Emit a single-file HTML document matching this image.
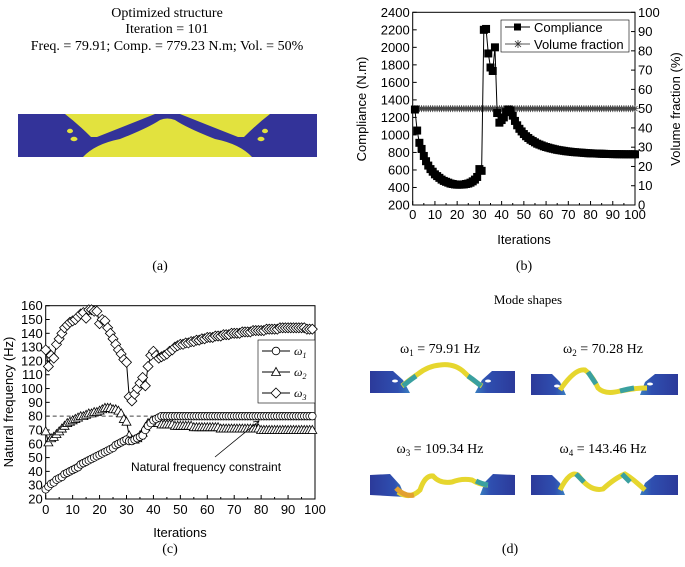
<!DOCTYPE html>
<html><head><meta charset="utf-8"><style>
html,body{margin:0;padding:0;background:#fff;}
svg{display:block;font-family:"Liberation Sans",sans-serif;}
.serif{font-family:"Liberation Serif",serif;}
</style></head><body>
<svg id="fig" width="685" height="567" viewBox="0 0 685 567">
<defs>
<linearGradient id="bl" x1="0" x2="1"><stop offset="0" stop-color="#2c3a9a"/><stop offset="0.7" stop-color="#2f4fb0"/><stop offset="1" stop-color="#3a7fc0"/></linearGradient>
<linearGradient id="br" x1="1" x2="0"><stop offset="0" stop-color="#2c3a9a"/><stop offset="0.7" stop-color="#2f4fb0"/><stop offset="1" stop-color="#3a7fc0"/></linearGradient>
</defs>
<!-- Panel A -->
<g class="serif">
<text x="167" y="17" text-anchor="middle" font-size="14" class="serif">Optimized structure</text>
<text x="167" y="33" text-anchor="middle" font-size="14" class="serif">Iteration = 101</text>
<text x="167" y="50" text-anchor="middle" font-size="14" class="serif">Freq. = 79.91; Comp. = 779.23 N.m; Vol. = 50%</text>
<g>
<rect x="18" y="114" width="299" height="43" fill="#333399"/>
<path d="M65,114 L155,114 Q130,124 97,137 L91,137 Q78,124 65,114 Z" fill="#e2e23e"/>
<path d="M270,114 L180,114 Q205,124 238,137 L244,137 Q257,124 270,114 Z" fill="#e2e23e"/>
<path d="M83,157 Q95,144 120,139 Q148,128 160,120 Q167,117 175,120 Q187,128 215,139 Q240,144 252,157 Z" fill="#e2e23e"/>
<ellipse cx="70" cy="131" rx="3" ry="2.2" fill="#e2e23e"/><ellipse cx="74" cy="139" rx="3.5" ry="2.2" fill="#e2e23e"/>
<ellipse cx="265" cy="131" rx="3" ry="2.2" fill="#e2e23e"/><ellipse cx="261" cy="139" rx="3.5" ry="2.2" fill="#e2e23e"/>
</g>
<text x="160" y="270" text-anchor="middle" font-size="14" class="serif">(a)</text>
</g>
<g id="pb"></g>
<g id="pc"></g>
<!-- Panel D -->
<g class="serif">
<text x="528" y="304" text-anchor="middle" font-size="13" class="serif">Mode shapes</text>
<text x="440" y="353" text-anchor="middle" font-size="14" class="serif">ω<tspan font-size="9" dy="3">1</tspan><tspan dy="-3"> = 79.91 Hz</tspan></text>
<text x="603" y="353" text-anchor="middle" font-size="14" class="serif">ω<tspan font-size="9" dy="3">2</tspan><tspan dy="-3"> = 70.28 Hz</tspan></text>
<text x="440" y="453" text-anchor="middle" font-size="14" class="serif">ω<tspan font-size="9" dy="3">3</tspan><tspan dy="-3"> = 109.34 Hz</tspan></text>
<text x="603" y="453" text-anchor="middle" font-size="14" class="serif">ω<tspan font-size="9" dy="3">4</tspan><tspan dy="-3"> = 143.46 Hz</tspan></text>
<g>
<path d="M370,371 L393,371 L403,380 L410,393 L370,393 Z" fill="url(#bl)"/><path d="M515,371 L492,371 L482,380 L475,393 L515,393 Z" fill="url(#br)"/>
<path d="M402,386 Q412,378 418,374 Q428,366 440,365 Q455,363 465,373 Q472,380 482,386" fill="none" stroke="#e6d62e" stroke-width="5"/>
<path d="M403,386 Q410,380 416,376" stroke="#3aa0a0" stroke-width="5" fill="none"/><path d="M468,376 Q474,380 481,386" stroke="#3aa0a0" stroke-width="5" fill="none"/>
<ellipse cx="395" cy="381" rx="3" ry="1.5" fill="#fff"/><ellipse cx="488" cy="381" rx="3" ry="1.5" fill="#fff"/>
</g>
<g>
<path d="M531,374 L552,374 L560,382 L566,395 L531,395 Z" fill="url(#bl)"/><path d="M678,374 L655,374 L645,382 L640,395 L678,395 Z" fill="url(#br)"/>
<path d="M560,390 Q575,368 585,370 Q592,375 598,388 Q605,395 620,391 Q635,388 647,388" fill="none" stroke="#e6d62e" stroke-width="5"/>
<path d="M588,372 Q592,378 596,384" stroke="#3aa0a0" stroke-width="5" fill="none"/><path d="M620,391 Q628,389 634,388" stroke="#3aa0a0" stroke-width="5" fill="none"/>
<ellipse cx="557" cy="386" rx="3" ry="1.5" fill="#fff"/><ellipse cx="650" cy="384" rx="3" ry="1.5" fill="#fff"/>
</g>
<g>
<path d="M370,475 L390,474 L400,485 L405,497 L370,495 Z" fill="url(#bl)"/><path d="M515,475 L493,474 L485,482 L480,495 L515,495 Z" fill="url(#br)"/>
<path d="M398,492 Q410,500 420,490 Q425,475 433,476 Q440,484 452,482 Q462,478 472,480 Q480,485 488,485" fill="none" stroke="#e6d62e" stroke-width="5"/>
<path d="M396,488 Q405,497 414,495" stroke="#e2a030" stroke-width="5" fill="none"/><path d="M476,481 Q482,484 488,485" stroke="#3aa0a0" stroke-width="5" fill="none"/>
</g>
<g>
<path d="M531,475 L552,475 L560,483 L565,495 L531,495 Z" fill="url(#bl)"/><path d="M678,475 L655,475 L645,483 L640,495 L678,495 Z" fill="url(#br)"/>
<path d="M560,490 Q570,470 578,475 Q590,492 603,489 Q615,478 625,474 Q632,478 645,490" fill="none" stroke="#e6d62e" stroke-width="5"/>
<path d="M576,474 Q580,478 584,482" stroke="#3aa0a0" stroke-width="5" fill="none"/><path d="M622,474 Q626,478 630,482" stroke="#3aa0a0" stroke-width="5" fill="none"/>
</g>
<text x="510" y="553" text-anchor="middle" font-size="14" class="serif">(d)</text>
</g>
</svg>
<script>
const iterations = [];
for (let i = 1; i <= 100; i++) iterations.push(i);
const complianceValues = [1290,1050,910,840,760,700,650,610,580,550,530,510,490,475,465,455,445,440,435,432,432,433,435,440,445,455,470,490,520,610,590,2200,2210,1930,1770,1730,2000,1250,1140,1170,1200,1260,1290,1280,1220,1160,1110,1070,1040,1010,985,965,945,930,915,900,890,880,870,862,855,848,842,836,830,826,822,818,814,811,808,805,803,801,799,797,795,793,791,790,789,788,787,786,785,784,783,782,782,781,781,780,780,780,779,779,779,779,779,779];
const volumeValues = [50,50,50,50,50,50,50,50,50,50,50,50,50,50,50,50,50,50,50,50,50,50,50,50,50,50,50,50,50,50,50,50,50,50,50,50,50,50,50,50,50,50,50,50,50,50,50,50,50,50,50,50,50,50,50,50,50,50,50,50,50,50,50,50,50,50,50,50,50,50,50,50,50,50,50,50,50,50,50,50,50,50,50,50,50,50,50,50,50,50,50,50,50,50,50,50,50,50,50,50];
const bXTicks = [0,10,20,30,40,50,60,70,80,90,100];
const bYTicks = [200,400,600,800,1000,1200,1400,1600,1800,2000,2200,2400];
const bY2Ticks = [0,10,20,30,40,50,60,70,80,90,100];
const omega1 = [27,29,31,32,34,35,36,38,39,40,41,42,43,45,46,47,48,49,50,51,52,53,54,55,56,57,59,60,61,62,63,62,62,63,64,65,66,70,73,75,77,78,79,80,80,80,80,80,80,80,80,80,80,80,80,80,80,80,80,80,80,80,80,80,80,80,80,80,80,80,80,80,80,80,80,80,80,80,80,80,80,80,80,80,80,80,80,80,80,80,80,80,80,80,80,80,80,80,80,80];
const omega2 = [69,61,64,65,67,69,71,73,75,76,77,78,79,80,80,81,82,82,83,83,84,85,86,86,86,85,85,84,82,78,76,66,63,63,64,66,68,72,75,76,76,75,75,74,74,74,74,74,73,73,73,73,73,73,73,72,72,72,72,72,72,72,72,72,72,71,71,71,71,71,71,71,71,71,71,71,71,71,71,71,70,70,70,70,70,70,70,70,70,70,70,70,70,70,70,70,70,70,70,70];
const omega3 = [128,116,124,122,132,136,140,144,146,148,149,150,152,154,155,151,157,157,156,156,147,150,149,144,140,136,132,128,125,121,119,94,91,96,100,104,108,102,116,124,127,124,122,123,124,125,127,128,130,131,132,132,133,133,134,134,135,135,136,136,137,137,137,138,138,138,139,139,139,140,140,140,140,141,141,141,141,142,142,142,142,142,143,143,143,143,143,144,144,144,144,144,144,144,144,144,144,143,143,143];
const cXTicks = [0,10,20,30,40,50,60,70,80,90,100];
const cYTicks = [20,30,40,50,60,70,80,90,100,110,120,130,140,150,160];
const constraintValue = 80;

const NS = "http://www.w3.org/2000/svg";
function mk(parent, tag, attrs, text) {
  const e = document.createElementNS(NS, tag);
  for (const k in attrs) e.setAttribute(k, attrs[k]);
  if (text !== undefined) e.textContent = text;
  parent.appendChild(e);
  return e;
}

/* Panel B */
const pb = document.getElementById('pb');
const bx0 = 412.7, bx1 = 635, by0 = 205, by1 = 12.3;
const bX = i => bx0 + (i / 100) * (bx1 - bx0);
const bY = c => by0 - (c - 200) / 2200 * (by0 - by1);
const bY2 = v => by0 - v / 100 * (by0 - by1);
let el;
el = mk(pb, 'rect', {x: bx0, y: by1, width: bx1 - bx0, height: by0 - by1, fill: 'none', stroke: '#000', 'stroke-width': 1});


bXTicks.forEach(t => {
  mk(pb, 'line', {x1: bX(t), x2: bX(t), y1: by0, y2: by0 - 4, stroke: '#000'});
  if (t < 100) mk(pb, 'line', {x1: bX(t + 5), x2: bX(t + 5), y1: by0, y2: by0 - 2, stroke: '#000'});
  el = mk(pb, 'text', {x: bX(t), y: by0 + 14, 'text-anchor': 'middle', 'font-size': 13}, t);
  
  
});
bYTicks.forEach(t => {
  mk(pb, 'line', {x1: bx0, x2: bx0 + 4, y1: bY(t), y2: bY(t), stroke: '#000'});
  el = mk(pb, 'text', {x: bx0 - 3, y: bY(t) + 4.5, 'text-anchor': 'end', 'font-size': 13}, t);
  
  
});
bY2Ticks.forEach(t => {
  mk(pb, 'line', {x1: bx1, x2: bx1 - 4, y1: bY2(t), y2: bY2(t), stroke: '#000'});
  el = mk(pb, 'text', {x: bx1 + 3, y: bY2(t) + 4.5, 'font-size': 13}, t);
  
  
});
el = mk(pb, 'text', {x: 524, y: 244, 'text-anchor': 'middle', 'font-size': 13}, 'Iterations');


el = mk(pb, 'text', {transform: 'translate(366,109) rotate(-90)', 'text-anchor': 'middle', 'font-size': 13}, 'Compliance (N.m)');


el = mk(pb, 'text', {transform: 'translate(680,109) rotate(-90)', 'text-anchor': 'middle', 'font-size': 13}, 'Volume fraction (%)');


el = mk(pb, 'polyline', {points: iterations.map((it, k) => bX(it) + ',' + bY2(volumeValues[k])).join(' '), fill: 'none', stroke: '#333', 'stroke-width': 1});


iterations.forEach((it, k) => {
  const x = bX(it), y = bY2(volumeValues[k]);
  el = mk(pb, 'path', {d: `M${x-3.5},${y}H${x+3.5}M${x},${y-3.5}V${y+3.5}M${x-2.5},${y-2.5}L${x+2.5},${y+2.5}M${x-2.5},${y+2.5}L${x+2.5},${y-2.5}`, stroke: '#444', 'stroke-width': 0.8});
  
  
});
el = mk(pb, 'polyline', {points: iterations.map((it, k) => bX(it) + ',' + bY(complianceValues[k])).join(' '), fill: 'none', stroke: '#000', 'stroke-width': 1});


iterations.forEach((it, k) => {
  el = mk(pb, 'rect', {x: bX(it) - 4, y: bY(complianceValues[k]) - 4, width: 8, height: 8, fill: '#000'});
  
  
});
el = mk(pb, 'rect', {x: 501, y: 20, width: 128, height: 32, fill: '#fff', stroke: '#000', 'stroke-width': 0.6});


mk(pb, 'line', {x1: 505, x2: 530, y1: 27, y2: 27, stroke: '#000'});
mk(pb, 'rect', {x: 514, y: 23.5, width: 7, height: 7, fill: '#000'});
el = mk(pb, 'text', {x: 534, y: 32, 'font-size': 13}, 'Compliance');


mk(pb, 'line', {x1: 505, x2: 530, y1: 44, y2: 44, stroke: '#555'});
mk(pb, 'path', {d: 'M514,44H522M518,40V48M515,41L521,47M515,47L521,41', stroke: '#333', 'stroke-width': 0.8});
el = mk(pb, 'text', {x: 534, y: 49, 'font-size': 13}, 'Volume fraction');


el = mk(pb, 'text', {x: 524, y: 270, 'text-anchor': 'middle', 'font-size': 14, 'font-family': 'Liberation Serif, serif'}, '(b)');



/* Panel C */
const pc = document.getElementById('pc');
const cx0 = 45.7, cx1 = 315, cy0 = 499, cy1 = 305.7;
const cX = i => cx0 + (i / 100) * (cx1 - cx0);
const cY = f => cy0 - (f - 20) / 140 * (cy0 - cy1);
el = mk(pc, 'rect', {x: cx0, y: cy1, width: cx1 - cx0, height: cy0 - cy1, fill: 'none', stroke: '#000'});


cXTicks.forEach(t => {
  mk(pc, 'line', {x1: cX(t), x2: cX(t), y1: cy0, y2: cy0 - 4, stroke: '#000'});
  if (t < 100) mk(pc, 'line', {x1: cX(t + 5), x2: cX(t + 5), y1: cy0, y2: cy0 - 2, stroke: '#000'});
  el = mk(pc, 'text', {x: cX(t), y: cy0 + 15, 'text-anchor': 'middle', 'font-size': 13}, t);
  
  
});
cYTicks.forEach(t => {
  mk(pc, 'line', {x1: cx0, x2: cx0 + 4, y1: cY(t), y2: cY(t), stroke: '#000'});
  el = mk(pc, 'text', {x: cx0 - 3, y: cY(t) + 4.5, 'text-anchor': 'end', 'font-size': 13}, t);
  
  
});
el = mk(pc, 'text', {x: 180, y: 537, 'text-anchor': 'middle', 'font-size': 13}, 'Iterations');


el = mk(pc, 'text', {transform: 'translate(13,402) rotate(-90)', 'text-anchor': 'middle', 'font-size': 13}, 'Natural frequency (Hz)');


el = mk(pc, 'line', {x1: cx0, x2: cx1, y1: cY(constraintValue), y2: cY(constraintValue), stroke: '#444', 'stroke-dasharray': '4,3'});


function marker(g, kind, x, y) {
  if (kind === 'circle') return mk(g, 'circle', {cx: x, cy: y, r: 3.8, fill: '#fff', stroke: '#000', 'stroke-width': 0.8});
  if (kind === 'tri') return mk(g, 'path', {d: `M${x},${y-4.5}L${x+4.5},${y+3.5}L${x-4.5},${y+3.5}Z`, fill: '#fff', stroke: '#000', 'stroke-width': 0.8});
  return mk(g, 'path', {d: `M${x},${y-5}L${x+5},${y}L${x},${y+5}L${x-5},${y}Z`, fill: '#fff', stroke: '#000', 'stroke-width': 0.8});
}
[[omega3, 'diamond', 'omega3'], [omega2, 'tri', 'omega2'], [omega1, 'circle', 'omega1']].forEach(([vals, kind, nm]) => {
  el = mk(pc, 'polyline', {points: iterations.map((it, k) => cX(it - 1) + ',' + cY(vals[k])).join(' '), fill: 'none', stroke: '#000', 'stroke-width': 1});
  
  
  iterations.forEach((it, k) => {
    el = marker(pc, kind, cX(it - 1), cY(vals[k]));
    
    
  });
});
el = mk(pc, 'text', {x: 206, y: 471, 'text-anchor': 'middle', 'font-size': 12}, 'Natural frequency constraint');


el = mk(pc, 'path', {d: 'M215,457 L259,421 M253,422 L259,421 L256,427', fill: 'none', stroke: '#000', 'stroke-width': 0.8});


el = mk(pc, 'rect', {x: 258, y: 340, width: 57, height: 63, fill: '#fff', stroke: '#000', 'stroke-width': 0.6});


[['circle', 351, '1'], ['tri', 372, '2'], ['diamond', 393, '3']].forEach(([kind, y, s]) => {
  mk(pc, 'line', {x1: 262, x2: 290, y1: y, y2: y, stroke: '#000'});
  marker(pc, kind, 276, y);
  el = mk(pc, 'text', {x: 294, y: y + 4, 'font-size': 12, 'font-style': 'italic', 'font-family': 'Liberation Serif, serif'});
  
  
  el.innerHTML = 'ω<tspan font-size="8" dy="3">' + s + '</tspan>';
});
el = mk(pc, 'text', {x: 170, y: 553, 'text-anchor': 'middle', 'font-size': 14, 'font-family': 'Liberation Serif, serif'}, '(c)');


</script>
</body></html>
